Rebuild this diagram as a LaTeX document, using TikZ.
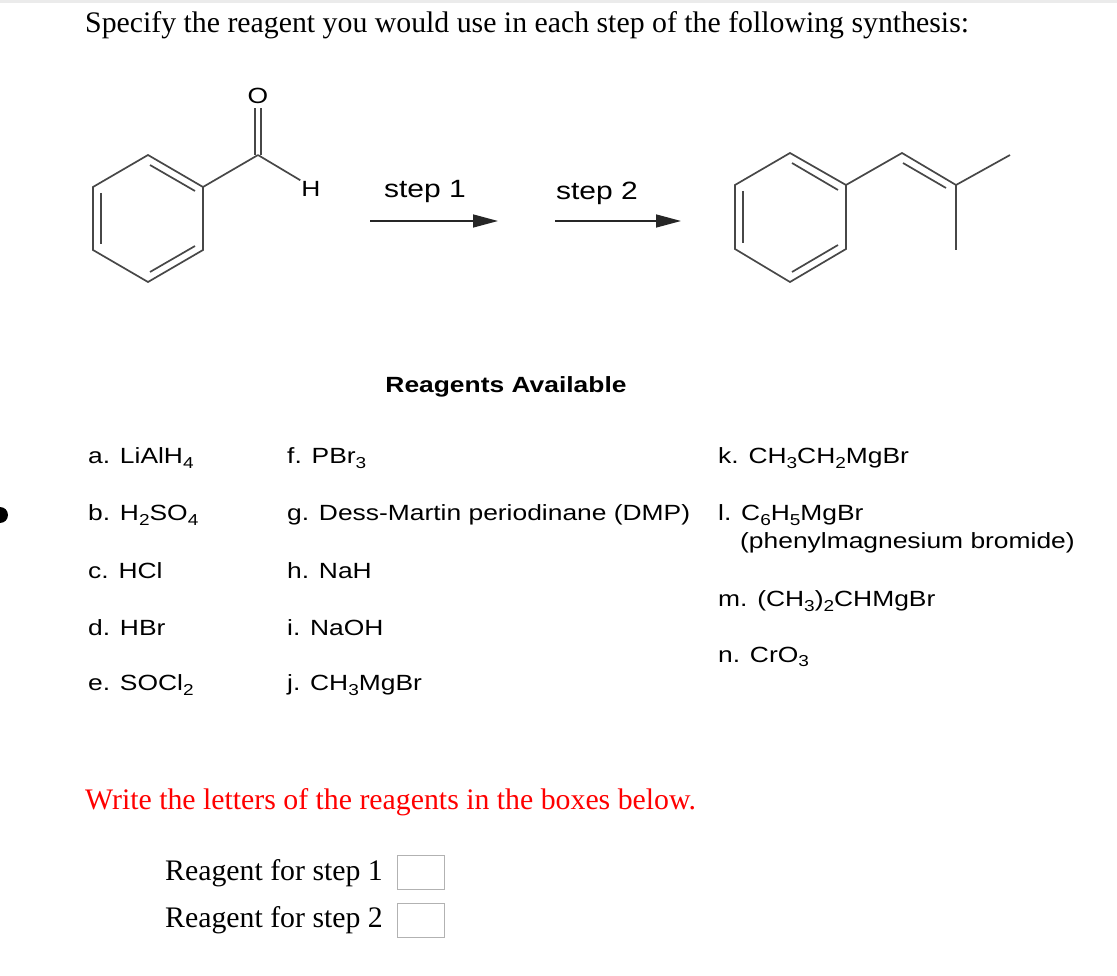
\documentclass[tikz,border=0pt]{standalone}
\usepackage{fontspec}
\setmainfont{Liberation Serif}
\newfontfamily\arial[FakeStretch=1.2]{Liberation Sans}
\newcommand\subs[1]{\raisebox{-0.4ex}{\scalebox{0.72}{#1}}}
\usetikzlibrary{arrows.meta}
\begin{document}
\begin{tikzpicture}[x=1pt,y=-1pt,
  bond/.style={draw=black!72,line width=1.7pt},
  lbl/.style={font=\arial\fontsize{22}{26}\selectfont,anchor=west,inner sep=0pt},
  ttl/.style={font=\fontsize{29.8}{34}\selectfont,anchor=west,inner sep=0pt},
  rbox/.style={draw=black!30,line width=0.8pt,minimum width=47pt,minimum height=34pt,inner sep=0pt},
  rxn/.style={draw=black!85,line width=1.5pt,-{Triangle[length=25pt,width=13pt]}}]
\useasboundingbox (0,0) rectangle (1117,976);
\fill[black!8] (0,0) rectangle (1117,3);
\fill[black] (0,515) circle (8);
\node[ttl] (title) at (85,25) {Specify the reagent you would use in each step of the following synthesis:};
% left molecule
\coordinate (a1) at (148,155); \coordinate (a2) at (203,187); \coordinate (a3) at (203,250);
\coordinate (a4) at (148,282); \coordinate (a5) at (93,250); \coordinate (a6) at (93,187);
\draw[bond] (a1)--(a2)--(a3)--(a4)--(a5)--(a6)--cycle;
\draw[bond] (101,193)--(101,244);
\draw[bond] (150,165)--(195,191);
\draw[bond] (150,272)--(195,246);
\coordinate (c1) at (258,155);
\node[font=\arial\fontsize{22}{24}\selectfont,inner sep=1pt] (O) at (258,96) {O};
\node[font=\arial\fontsize{22}{24}\selectfont,inner sep=1pt] (H) at (311,189) {H};
\draw[bond] (a2)--(c1);
\draw[bond] (255,155)--(255,108) (261,155)--(261,108);
\draw[bond] (c1)--(H.north west);
% arrows
\coordinate (s1a) at (370,221); \coordinate (s1b) at (498,221);
\coordinate (s2a) at (555,221); \coordinate (s2b) at (681,221);
\draw[rxn] (s1a)--(s1b);
\draw[rxn] (s2a)--(s2b);
\node[font=\arial\fontsize{25}{28}\selectfont,inner sep=0pt] (st1) at (425,191) {step 1};
\node[font=\arial\fontsize{25}{28}\selectfont,inner sep=0pt] (st2) at (597,193) {step 2};
% right molecule
\coordinate (b1) at (790,153); \coordinate (b2) at (846,185); \coordinate (b3) at (846,249);
\coordinate (b4) at (790,282); \coordinate (b5) at (735,249); \coordinate (b6) at (735,185);
\draw[bond] (b1)--(b2)--(b3)--(b4)--(b5)--(b6)--cycle;
\draw[bond] (743,191)--(743,243);
\draw[bond] (792,163)--(838,190);
\draw[bond] (792,272)--(838,245);
\coordinate (d1) at (902,153); \coordinate (d2) at (956,185); \coordinate (d3) at (1010,155); \coordinate (d4) at (956,250);
\draw[bond] (b2)--(d1)--(d2)--(d3);
\draw[bond] (d2)--(d4);
\draw[bond] (903,163)--(946,188);
% reagents
\node[font=\arial\bfseries\fontsize{22}{26}\selectfont,inner sep=0pt] (ra) at (506,387) {Reagents Available};
\node[lbl] (ia) at (88,458) {a. LiAlH\subs{4}};
\node[lbl] (ib) at (88,515) {b. H\subs{2}SO\subs{4}};
\node[lbl] (ic) at (88,571) {c. HCl};
\node[lbl] (id) at (88,628) {d. HBr};
\node[lbl] (ie) at (88,685) {e. SOCl\subs{2}};
\node[lbl] (if) at (287,458) {f. PBr\subs{3}};
\node[lbl] (ig) at (287,515) {g. Dess-Martin periodinane (DMP)};
\node[lbl] (ih) at (287,571) {h. NaH};
\node[lbl] (ii) at (287,628) {i. NaOH};
\node[lbl] (ij) at (287,685) {j. CH\subs{3}MgBr};
\node[lbl] (ik) at (718,458) {k. CH\subs{3}CH\subs{2}MgBr};
\node[lbl] (il) at (718,515) {l. C\subs{6}H\subs{5}MgBr};
\node[lbl] (il2) at (740,543) {(phenylmagnesium bromide)};
\node[lbl] (im) at (718,601) {m. (CH\subs{3})\subs{2}CHMgBr};
\node[lbl] (in) at (718,657) {n. CrO\subs{3}};
% answer
\node[ttl,text=red] (wr) at (85,802) {Write the letters of the reagents in the boxes below.};
\node[ttl] (r1) at (165,873) {Reagent for step 1};
\node[ttl] (r2) at (165,920) {Reagent for step 2};
\node[rbox] (bx1) at (420.5,872) {};
\node[rbox] (bx2) at (420.5,920) {};
\end{tikzpicture}
\end{document}
